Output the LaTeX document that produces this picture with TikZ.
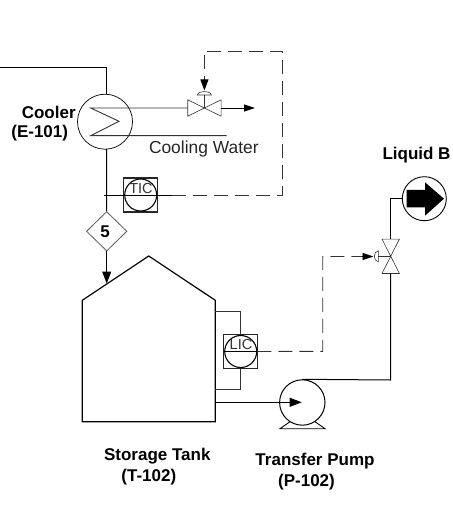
\documentclass[tikz,border=0pt]{standalone}
\usepackage{fontspec}
\setmainfont{Liberation Sans}
\usetikzlibrary{shapes.geometric, arrows.meta, positioning, calc}

\begin{document}
\begin{tikzpicture}[
        x=1pt, y=-1pt,
        vessel/.style={circle, draw=black, line width=0.7pt, fill=white, inner sep=0pt},
        instbox/.style={rectangle, draw=black!85, line width=1.1pt, minimum size=34pt, inner sep=0pt},
        instcircle/.style={circle, draw=black, line width=1.1pt, minimum size=32pt, inner sep=0pt},
        insttext/.style={font=\fontsize{14.5}{16}\selectfont, text=black!80, inner sep=0pt},
        valvebox/.style={rectangle, inner sep=0pt},
        valvebody/.style={draw=black!80, line width=0.6pt},
        stream/.style={draw=black, line width=1pt},
        thinline/.style={draw=black!80, line width=0.9pt},
        arrow/.style={-{Triangle[length=12pt, width=9pt]}, draw=black, line width=1pt},
        signal/.style={draw=black!80, line width=0.9pt, dash pattern=on 14pt off 7pt},
        label/.style={font=\fontsize{17}{19}\bfseries\selectfont, inner sep=0pt}
    ]
        \useasboundingbox (0,0) rectangle (452,529);

        % cooler and cooling water
        \node[vessel, minimum size=55pt] (cooler) at (105,121.7) {};
        \node[valvebox, minimum width=33pt, minimum height=16pt] (cwvalve) at (204.4,108) {};
        \coordinate (feed) at (0,68);
        \coordinate (coilin) at (90.7,108);
        \coordinate (coiltip) at (119,121.3);
        \coordinate (coilout) at (90.7,135.7);
        \coordinate (cwin) at (226.7,135.7);
        \coordinate (cwout) at (255,108);

        \draw[stream] (feed) -- (106.5,68) -- (106.5,94);
        \draw[thinline] (cwin) -- (coilout) -- (coiltip) -- (coilin) -- (cwvalve.west);
        \draw[valvebody] (cwvalve.north west) -- (cwvalve.south east) -- (cwvalve.north east) -- (cwvalve.south west) -- cycle;
        \draw[-{Triangle[length=11pt, width=7pt]}, thinline, draw=black] (cwvalve.east) -- (cwout);
        \draw[valvebody] (cwvalve.center) -- (204.4,95);
        \draw[valvebody] (197.4,95) .. controls (198,90.5) and (210.8,90.5) .. (211.4,95) -- cycle;

        % temperature loop
        \node[instbox] (ticbox) at (140.7,195) {};
        \node[instcircle] (tic) at (140.7,195) {};
        \node[insttext] at (141,189) {TIC};
        \coordinate (ticjoin) at (104.3,195);
        \coordinate (ticend) at (171.7,195);
        \coordinate (actuator) at (204.4,90.5);
        \draw[draw=black, line width=0.8pt] (ticjoin) -- (ticend);
        \draw[signal] (ticend) -- (282,195) -- (282,51) -- (204.4,51) -- (204.4,80);
        \draw[-{Triangle[length=11pt, width=8pt]}, draw=black, line width=0.8pt] (204.4,79) -- (actuator);

        % stream 5 and tank
        \node[diamond, draw=black!65, line width=0.8pt, minimum width=40.5pt, minimum height=39.5pt, inner sep=0pt] (stream5) at (106.7,231.3) {};
        \node[font=\fontsize{17}{19}\bfseries\selectfont] at (105,231.5) {5};
        \coordinate (tankroof) at (106.7,283.5);
        \draw[stream] (106.5,149.2) -- (stream5.north);
        \draw[arrow] (stream5.south) -- (tankroof);
        \draw[line width=1.2pt, line join=miter] (82.3,300.3) -- (148.7,256) -- (215.3,300.3) -- (215.3,421.7) -- (82.3,421.7) -- cycle;

        % level loop
        \node[instbox] (licbox) at (240.7,351.5) {};
        \node[instcircle] (lic) at (240.7,351.5) {};
        \node[insttext] at (241,344.5) {LIC};
        \draw[thinline] (215.3,311.7) -- (240,311.7) -- (240,334.5);
        \draw[thinline] (215.3,389) -- (240,389) -- (240,368.5);
        \draw[draw=black, line width=0.7pt] (lic.west) -- (lic.east);
        \node[valvebox, minimum width=17pt, minimum height=34pt] (lvalve) at (390.7,256.3) {};
        \draw[valvebody] (lvalve.north west) -- (lvalve.north east) -- (lvalve.south west) -- (lvalve.south east) -- cycle;
        \draw[valvebody] (lvalve.center) -- (378.3,256.3);
        \draw[valvebody] (378.3,250.8) .. controls (373,251.5) and (373,261.1) .. (378.3,261.8) -- cycle;
        \draw[signal] (lic.east) -- (322.7,351.3) -- (322.7,256.5) -- (362,256.5);
        \draw[-{Triangle[length=11pt, width=7pt]}, draw=black, line width=0.8pt] (362,256.5) -- (373.5,256.5);

        % pump
        \node[vessel, line width=1pt, minimum size=45.4pt] (pump) at (302.3,402.5) {};
        \draw[line width=0.9pt] (290,421.7) -- (280,428.7) -- (325,428.7) -- (315,421.7);
        \draw[arrow] (215.3,402.3) -- (301.7,402.3);
        \draw[stream] (pump.north) -- (390.7,380) -- (lvalve.south);

        % liquid B
        \node[vessel, line width=0.9pt, minimum size=44pt] (liquidb) at (424.3,198.7) {};
        \draw[stream] (lvalve.north) -- (390.7,198.7) -- (liquidb.west);
        \fill (406.7,190) -- (425,190) -- (425,182.3) -- (444,198.7) -- (425,215.7) -- (425,207.3) -- (406.7,207.3) -- cycle;

        % labels
        \node[label] (coolerlabel) at (48.7,112) {Cooler};
        \node[label] (coolertag) at (39.7,133) {(E-101)};
        \node[font=\fontsize{17.4}{19}\selectfont, text=black!85, inner sep=0pt] (cwlabel) at (203.8,149.5) {Cooling Water};
        \node[label] (liquidlabel) at (416.5,155) {Liquid B};
        \node[label] (tanklabel) at (157.3,456.5) {Storage Tank};
        \node[label] (tanktag) at (148.8,477.5) {(T-102)};
        \node[label] (pumplabel) at (315,461) {Transfer Pump};
        \node[label] (pumptag) at (306.5,482) {(P-102)};
    \end{tikzpicture}
\end{document}
